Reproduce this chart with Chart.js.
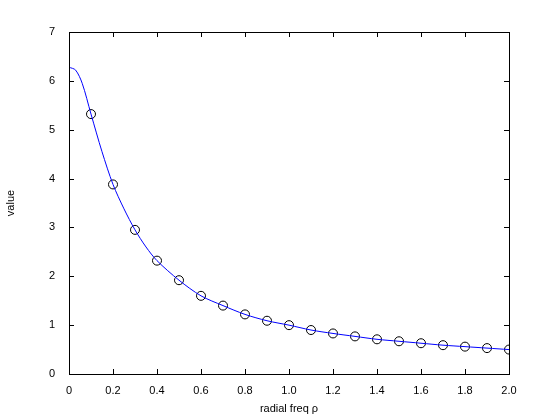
<!DOCTYPE html>
<html><head><meta charset="utf-8">
<script src="https://cdn.jsdelivr.net/npm/chart.js@4"></script>
<style>body{margin:0;background:#fff}#w{width:560px;height:420px}</style>
</head><body><div id="w"><canvas id="c"></canvas></div>
<script>
const markerX=[0.1,0.2,0.3,0.4,0.5,0.6,0.7,0.8,0.9,1.0,1.1,1.2,1.3,1.4,1.5,1.6,1.7,1.8,1.9,2.0];
const markerY=[5.32,3.88,2.95,2.32,1.92,1.60,1.40,1.22,1.09,1.00,0.90,0.83,0.77,0.71,0.67,0.63,0.59,0.56,0.53,0.50];
const lineX=[0,0.03,0.06,0.1,0.15,0.2,0.25,0.3,0.35,0.4,0.5,0.6,0.7,0.8,0.9,1.0,1.1,1.2,1.3,1.4,1.5,1.6,1.7,1.8,1.9,2.0];
const lineY=[6.28,6.22,5.95,5.32,4.55,3.88,3.38,2.95,2.60,2.32,1.92,1.60,1.40,1.22,1.09,1.00,0.90,0.83,0.77,0.71,0.67,0.63,0.59,0.56,0.53,0.50];
const xTicks=[0,0.2,0.4,0.6,0.8,1,1.2,1.4,1.6,1.8,2];
const yTicks=[0,1,2,3,4,5,6,7];
const boxPlugin={id:'box',afterDraw(ch){const c=ch.ctx,a=ch.chartArea,xs=ch.scales.x,ys=ch.scales.y;
c.save();c.strokeStyle='#000';c.lineWidth=1;c.strokeRect(a.left+0.5,a.top+0.5,a.right-a.left,a.bottom-a.top);
c.beginPath();
xTicks.forEach(v=>{const p=Math.round(xs.getPixelForValue(v))+0.5;c.moveTo(p,a.bottom);c.lineTo(p,a.bottom-5);c.moveTo(p,a.top);c.lineTo(p,a.top+5);});
yTicks.forEach(v=>{const p=Math.round(ys.getPixelForValue(v))+0.5;c.moveTo(a.left,p);c.lineTo(a.left+5,p);c.moveTo(a.right,p);c.lineTo(a.right-5,p);});
c.stroke();c.restore();}};
Chart.defaults.font.family='"Liberation Sans", Arial, sans-serif';
Chart.defaults.font.size=11;Chart.defaults.color='#000';
new Chart(document.getElementById('c'),{type:'scatter',
data:{datasets:[
{data:lineX.map((x,i)=>({x,y:lineY[i]})),showLine:true,borderColor:'#0000ff',borderWidth:1,pointRadius:0,tension:0.3},
{data:markerX.map((x,i)=>({x,y:markerY[i]})),showLine:false,pointRadius:4.5,pointBorderColor:'#000',pointBackgroundColor:'rgba(0,0,0,0)',pointBorderWidth:1}
]},
options:{animation:false,responsive:true,maintainAspectRatio:false,
layout:{padding:{top:32,right:51,left:0,bottom:0}},
plugins:{legend:{display:false},tooltip:{enabled:false}},
scales:{
x:{type:'linear',min:0,max:2,afterBuildTicks:s=>{s.ticks=xTicks.map(v=>({value:v}))},
ticks:{padding:2,maxRotation:0},grid:{display:false},border:{display:false},
title:{display:true,text:'radial freq ρ',padding:{top:2}},afterFit:s=>{s.height=46}},
y:{min:0,max:7,afterBuildTicks:s=>{s.ticks=yTicks.map(v=>({value:v}))},
ticks:{padding:6},grid:{display:false},border:{display:false},
title:{display:true,text:'value',padding:{bottom:4}},afterFit:s=>{s.width=69}}
}},plugins:[boxPlugin]});
</script></body></html>
